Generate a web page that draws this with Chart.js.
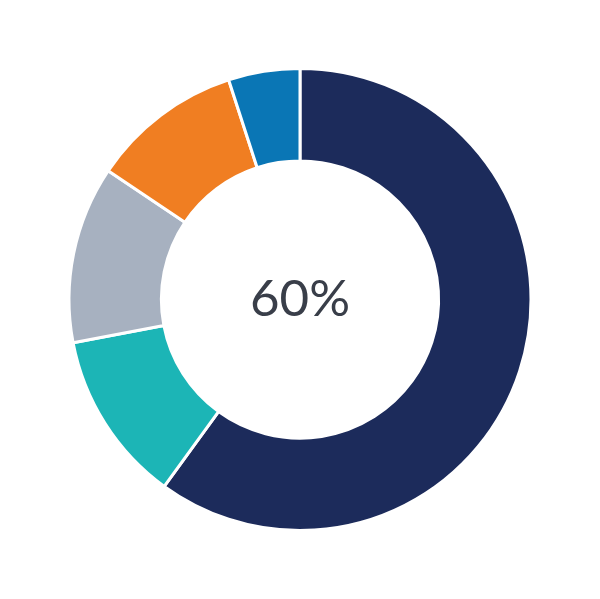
<!DOCTYPE html>
<html>
<head>
<meta charset="utf-8">
<script src="https://cdn.jsdelivr.net/npm/chart.js@4"></script>
<style>
  html, body { margin: 0; padding: 0; background: #fff; }
  #wrap { width: 600px; height: 599px; }
</style>
</head>
<body>
<div id="wrap"><canvas id="myChart1"></canvas></div>
<script>
const segmentLabels = ["Navy", "Teal", "Gray", "Orange", "Blue"];
const segmentValues = [60, 12, 12.4, 10.6, 5];
const segmentColors = ["#1c2b5b", "#1cb5b6", "#a7b1c0", "#f07e22", "#0a76b5"];
const centerText = "60%";

const centerLabel = {
  id: "centerLabel",
  afterDraw(chart) {
    const meta = chart.getDatasetMeta(0);
    if (!meta.data.length) return;
    const { x, y } = meta.data[0];
    const ctx = chart.ctx;
    ctx.save();
    ctx.font = "400 51px Lato";
    ctx.fillStyle = "#393e49";
    ctx.textAlign = "center";
    ctx.textBaseline = "middle";
    ctx.fillText(centerText, x, y);
    ctx.restore();
  },
};

const ctx = document.getElementById("myChart1").getContext("2d");
const chart1 = new Chart(ctx, {
  type: "doughnut",
  data: {
    labels: segmentLabels,
    datasets: [
      {
        data: segmentValues,
        backgroundColor: segmentColors,
        borderColor: "#ffffff",
        borderWidth: 3,
      },
    ],
  },
  options: {
    responsive: true,
    maintainAspectRatio: false,
    animation: false,
    cutout: "60%",
    layout: { padding: 67 },
    plugins: {
      legend: { display: false },
      tooltip: { enabled: false },
    },
  },
  plugins: [centerLabel],
});
</script>
</body>
</html>
